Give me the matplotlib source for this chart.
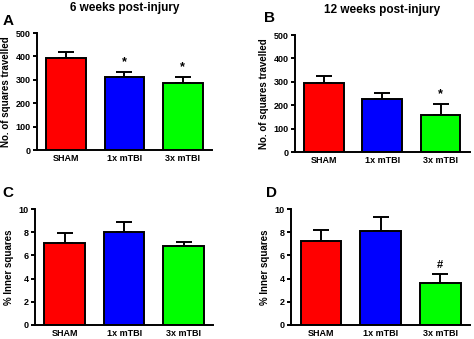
import matplotlib
matplotlib.use("Agg")
import matplotlib.pyplot as plt

groups = ["SHAM", "1x mTBI", "3x mTBI"]
colors = ["#ff0000", "#0000ff", "#00ff00"]

# panel A: 6 weeks, squares travelled
a_mean = [392, 313, 287]
a_err = [28, 20, 26]
a_mark = ["", "*", "*"]
# panel B: 12 weeks, squares travelled
b_mean = [294, 227, 159]
b_err = [31, 24, 47]
b_mark = ["", "", "*"]
# panel C: 6 weeks, % inner squares
c_mean = [7.1, 8.0, 6.84]
c_err = [0.86, 0.86, 0.29]
c_mark = ["", "", ""]
# panel D: 12 weeks, % inner squares
d_mean = [7.24, 8.13, 3.62]
d_err = [0.92, 1.18, 0.81]
d_mark = ["", "", "#"]

FONT = "Liberation Sans"
plt.rcParams["font.family"] = [FONT, "DejaVu Sans"]
plt.rcParams["font.weight"] = "bold"

fig = plt.figure(figsize=(4.74, 3.39), dpi=100)


def panel(rect, mean, err, marks, ymax, ystep, ylabel, letter, letter_xy, title=None):
    ax = fig.add_axes(rect)
    x = range(len(groups))
    ax.bar(x, mean, width=0.68, color=colors, edgecolor="black", linewidth=1.4, zorder=2)
    ax.errorbar(x, mean, yerr=[[0] * len(err), err], fmt="none", ecolor="black",
                elinewidth=1.4, capsize=6, capthick=1.4, zorder=1)
    for i, m in enumerate(marks):
        if m:
            off = ymax * 0.03
            ax.text(i, mean[i] + err[i] + off, m, ha="center", va="bottom",
                    fontsize=9 if m == "*" else 8, fontweight="bold")
    ax.set_xlim(-0.5, 2.5)
    ax.set_ylim(0, ymax)
    ax.set_yticks([v * ystep for v in range(int(ymax / ystep) + 1)])
    ax.set_xticks(list(x))
    ax.set_xticklabels(groups)
    for s in ("top", "right"):
        ax.spines[s].set_visible(False)
    for s in ("left", "bottom"):
        ax.spines[s].set_linewidth(1.4)
    ax.tick_params(axis="y", labelsize=6.5, width=1.4, length=3, pad=1.5)
    ax.tick_params(axis="x", labelsize=6.5, length=0, pad=3)
    for lbl in ax.get_xticklabels() + ax.get_yticklabels():
        lbl.set_fontweight("bold")
    ax.set_ylabel(ylabel, fontsize=7, fontweight="bold", labelpad=3)
    fig.text(letter_xy[0], letter_xy[1], letter, fontsize=11, fontweight="bold",
             ha="left", va="center")
    if title:
        ax.set_title(title, fontsize=8.5, fontweight="bold", pad=16)
    return ax


panel([0.078, 0.5575, 0.369, 0.345], a_mean, a_err, a_mark, 500, 100,
      "No. of squares travelled", "A", (0.005, 0.937), "6 weeks post-injury")
panel([0.622, 0.5516, 0.369, 0.345], b_mean, b_err, b_mark, 500, 100,
      "No. of squares travelled", "B", (0.557, 0.948), "12 weeks post-injury")
panel([0.0738, 0.0413, 0.376, 0.342], c_mean, c_err, c_mark, 10, 2,
      "% Inner squares", "C", (0.005, 0.43))
panel([0.614, 0.0413, 0.378, 0.342], d_mean, d_err, d_mark, 10, 2,
      "% Inner squares", "D", (0.562, 0.43))

fig.savefig("out.png", dpi=100)
